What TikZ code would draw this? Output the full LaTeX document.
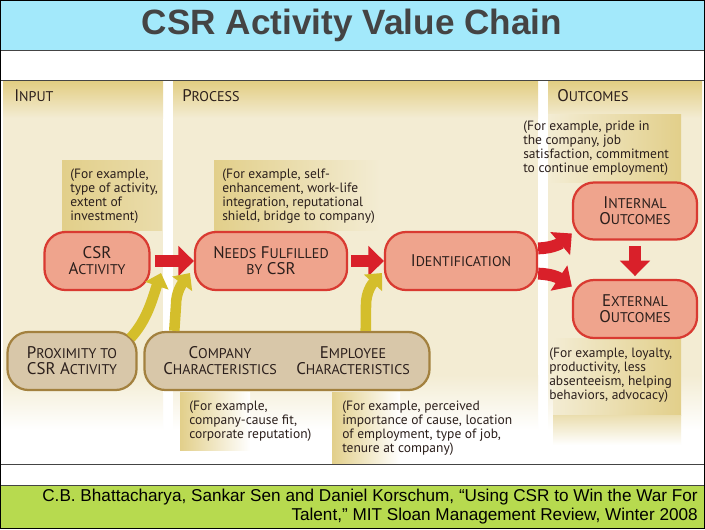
\documentclass[tikz,border=0pt]{standalone}
\usepackage{fontspec}
\setmainfont{PT Sans}
\newfontfamily\arialfont{Liberation Sans}
\usepackage{tikz}
\usetikzlibrary{arrows.meta,positioning}
\definecolor{titleblue}{HTML}{A3E9FB}
\definecolor{titletext}{HTML}{444444}
\definecolor{footgreen}{HTML}{B7DA4F}
\definecolor{colgold}{HTML}{E2CD82}
\definecolor{colbeige}{HTML}{F3ECD3}
\definecolor{notegold}{HTML}{E2CF8A}
\definecolor{pillfill}{HTML}{EFA48D}
\definecolor{pillline}{HTML}{D93A31}
\definecolor{tanfill}{HTML}{D8C7A9}
\definecolor{tanline}{HTML}{A3813F}
\definecolor{arrowred}{HTML}{D9202A}
\definecolor{arrowgold}{HTML}{D4BE2B}
\definecolor{inktext}{HTML}{2B1F1C}
\newcommand{\smc}[1]{{\fontsize{10}{11}\selectfont #1}}

\begin{document}
\begin{tikzpicture}[x=0.025cm,y=-0.025cm,
  pill/.style={rectangle,rounded corners=15pt,draw=pillline,line width=1.6pt,fill=pillfill,text=inktext,align=center,minimum height=1.45cm,font=\fontsize{12}{11.3}\selectfont},
  tanpill/.style={pill,draw=tanline,fill=tanfill},
  note/.style={anchor=west,align=left,inner sep=0pt,text=inktext,font=\fontsize{9.6}{9.9}\selectfont},
  header/.style={anchor=west,inner sep=0pt,text=inktext,font=\fontsize{12}{12}\selectfont},
  redarrow/.style={draw=arrowred,line width=8.5pt,-{Triangle[length=11pt,width=21pt]}},
  goldarrow/.style={draw=arrowgold,line width=7.5pt,-{Triangle[length=9.5pt,width=17pt]}}]
  \useasboundingbox (0,0) rectangle (705,529);
  \fill[white] (0,0) rectangle (705,529);
  \fill[titleblue] (0,0) rectangle (705,50);
  \fill[footgreen] (0,485) rectangle (705,529);
  \foreach \a/\b in {3/163,173/538,548/702} {
    \shade[top color=colgold,bottom color=colbeige] (\a,81) rectangle (\b,118);
    \fill[colbeige] (\a,118) rectangle (\b,375);
    \shade[top color=colbeige,bottom color=white] (\a,375) rectangle (\b,430);
  }
  \shade[left color=notegold,right color=notegold!55!colbeige] (62,160) rectangle (162,230);
  \shade[left color=notegold,right color=colbeige] (214,160) rectangle (380,230);
  \shade[left color=colbeige,right color=notegold] (548,114) rectangle (681,182);
  \shade[left color=notegold,right color=white] (180,392) rectangle (250,450);
  \shade[left color=notegold,right color=white] (332,392) rectangle (400,464);
  \shade[left color=colbeige,right color=notegold] (553,338) rectangle (681,415);
  \shade[top color=notegold!50!colbeige,bottom color=white] (553,415) rectangle (681,445);
  \draw[titletext,line width=0.7pt] (0,50) -- (705,50) (0,80) -- (705,80) (0,464) -- (705,464) (0,485) -- (705,485);
  \draw[black,line width=1pt] (0.5,0.5) rectangle (704.5,528.5);

  \node[font=\arialfont\bfseries\fontsize{25}{30}\selectfont,text=titletext] (0) at (352,25) {CSR Activity Value Chain};
  \node[header] (1) at (14,96) {I\smc{NPUT}};
  \node[header] (2) at (182,96) {P\smc{ROCESS}};
  \node[header] (3) at (557,96) {O\smc{UTCOMES}};

  \node[note] (4) at (70,196) {(For example,\\type of activity,\\extent of\\investment)};
  \node[note] (5) at (222,196) {(For example, self-\\enhancement, work-life\\integration, reputational\\shield, bridge to company)};
  \node[note] (6) at (523,148) {(For example, pride in\\the company, job\\satisfaction, commitment\\to continue employment)};
  \node[note] (7) at (189,421) {(For example,\\company-cause fit,\\corporate reputation)};
  \node[note] (8) at (342,428) {(For example, perceived\\importance of cause, location\\of employment, type of job,\\tenure at company)};
  \node[note] (9) at (549,375) {(For example, loyalty,\\productivity, less\\absenteeism, helping\\behaviors, advocacy)};

  \node[pill,minimum width=2.625cm] (10) at (97,261) {CSR\\A\smc{CTIVITY}};
  \node[pill,minimum width=3.8cm] (11) at (271,261) {N\smc{EEDS} F\smc{ULFILLED}\\\smc{BY} CSR};
  \node[pill,minimum width=3.8cm] (12) at (461,261) {I\smc{DENTIFICATION}};
  \node[pill,minimum width=3.1cm,minimum height=1.425cm] (13) at (635,211) {I\smc{NTERNAL}\\O\smc{UTCOMES}};
  \node[pill,minimum width=3.1cm] (14) at (635,309) {E\smc{XTERNAL}\\O\smc{UTCOMES}};
  \node[tanpill,minimum width=3.225cm] (15) at (72,361) {P\smc{ROXIMITY TO}\\CSR A\smc{CTIVITY}};
  \node[tanpill,minimum width=7.125cm] (16) at (287,361) {};
  \node[align=center,text=inktext,font=\fontsize{12}{11.3}\selectfont] (17) at (220,361) {C\smc{OMPANY}\\C\smc{HARACTERISTICS}};
  \node[align=center,text=inktext,font=\fontsize{12}{11.3}\selectfont] (18) at (353,361) {E\smc{MPLOYEE}\\C\smc{HARACTERISTICS}};

  \coordinate (19) at (161,273);
  \coordinate (20) at (190,273);
  \coordinate (21) at (382,273);
  \draw[redarrow,shorten <=3pt] (10) -- (11);
  \draw[redarrow,shorten <=2pt] (11) -- (12);
  \draw[redarrow] ([yshift=9pt]12.east) .. controls (555,248) and (562,242) .. ([yshift=-16pt]13.west);
  \draw[redarrow] ([yshift=-9pt]12.east) .. controls (555,274) and (562,280) .. ([yshift=16pt]14.west);
  \draw[redarrow,shorten <=4pt,shorten >=2pt] (13) -- (14);
  \draw[goldarrow] ([xshift=-5pt,yshift=-5pt]15.north east) .. controls (147,320) and (152,300) .. (19);
  \draw[goldarrow] ([xshift=22pt]16.north west) -- (176,305) .. controls (176,292) and (182,284) .. (20);
  \draw[goldarrow] ([xshift=56pt]16.north) -- (366,305) .. controls (366,292) and (372,284) .. (21);

  \node[anchor=east,align=right,inner sep=0pt,font=\arialfont\fontsize{12.2}{13.5}\selectfont] (22) at (698,507) {C.B. Bhattacharya, Sankar Sen and Daniel Korschum, “Using CSR to Win the War For\\Talent,” MIT Sloan Management Review, Winter 2008};
\end{tikzpicture}
\end{document}
